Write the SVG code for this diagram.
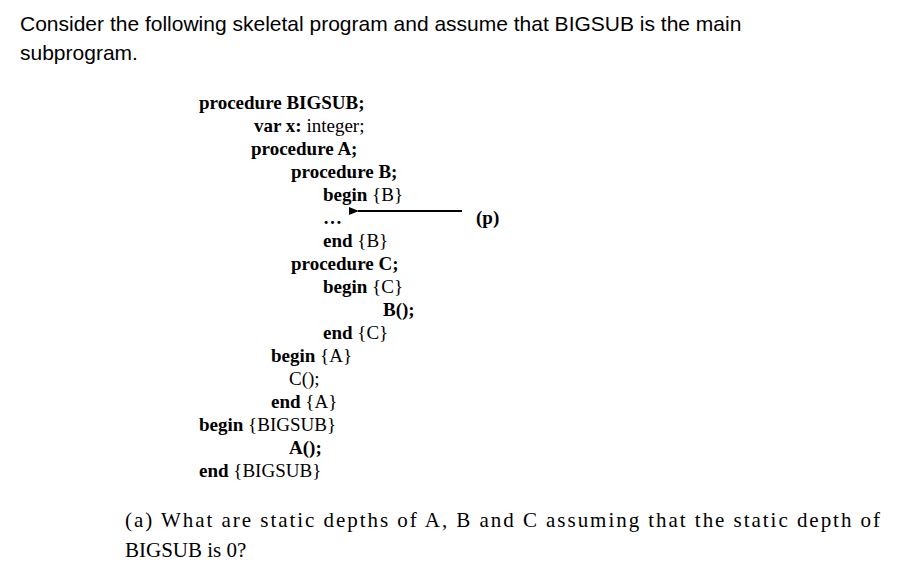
<svg xmlns="http://www.w3.org/2000/svg" width="924" height="586" viewBox="0 0 924 586">
<style>
.h{font-family:"Liberation Sans",Arial,sans-serif;font-size:21px;fill:#000}
.c{font-family:"Liberation Serif","Times New Roman",serif;font-size:19px;fill:#000}
.b{font-weight:bold}
.q{font-family:"Liberation Serif","Times New Roman",serif;font-size:21px;fill:#000}
</style>
<defs><marker id="ah" markerWidth="10" markerHeight="8" refX="1" refY="4" orient="auto" markerUnits="userSpaceOnUse"><path d="M10,0 L0,4 L10,8 Z" fill="#000"/></marker></defs>
<rect width="924" height="586" fill="#fff"/>
<text class="h" x="20" y="31">Consider the following skeletal program and assume that BIGSUB is the main</text>
<text class="h" x="20" y="60">subprogram.</text>
<g id="code" class="c">
<text x="199" y="109" class="b">procedure BIGSUB;</text>
<text x="254" y="132"><tspan class="b">var x:</tspan> integer;</text>
<text x="251" y="155" class="b">procedure A;</text>
<text x="291" y="178" class="b">procedure B;</text>
<text x="323" y="201"><tspan class="b">begin</tspan> {B}</text>
<text x="323" y="224" class="b">…</text>
<text x="323" y="247"><tspan class="b">end</tspan> {B}</text>
<text x="291" y="270" class="b">procedure C;</text>
<text x="323" y="293"><tspan class="b">begin</tspan> {C}</text>
<text x="383" y="316" class="b">B();</text>
<text x="323" y="339"><tspan class="b">end</tspan> {C}</text>
<text x="271" y="362"><tspan class="b">begin</tspan> {A}</text>
<text x="289" y="385">C();</text>
<text x="271" y="408"><tspan class="b">end</tspan> {A}</text>
<text x="199" y="431"><tspan class="b">begin</tspan> {BIGSUB}</text>
<text x="289" y="454" class="b">A();</text>
<text x="199" y="477"><tspan class="b">end</tspan> {BIGSUB}</text>
</g>
<g id="connectors"><line x1="462" y1="211" x2="358" y2="211" stroke="#000" stroke-width="2" marker-end="url(#ah)"/></g>
<g id="p"><text class="c b" x="476" y="224">(p)</text></g>
<text class="q" x="125" y="527" textLength="755" lengthAdjust="spacing">(a) What are static depths of A, B and C assuming that the static depth of</text>
<text class="q" x="125" y="557">BIGSUB is 0?</text>
</svg>
